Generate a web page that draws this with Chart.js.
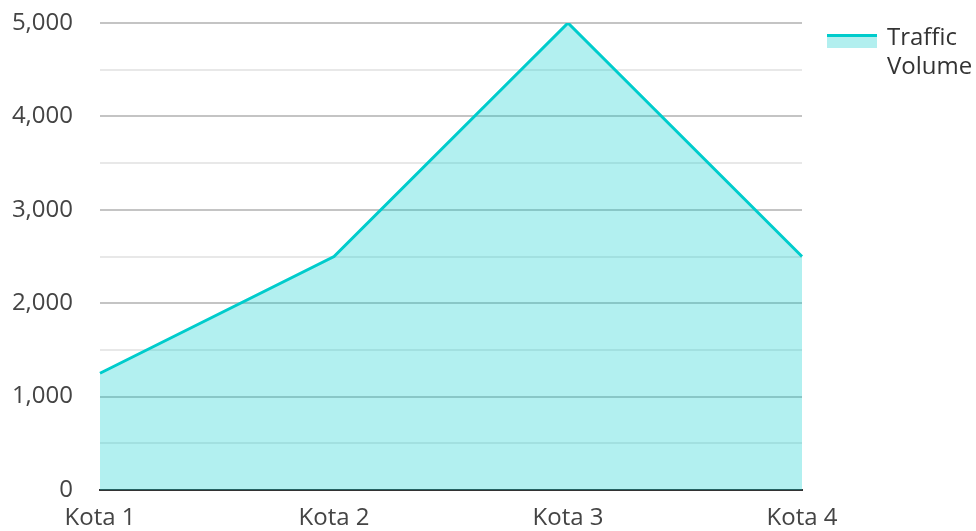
<!DOCTYPE html>
<html><head><meta charset="utf-8">
<script src="https://cdn.jsdelivr.net/npm/chart.js@4/dist/chart.umd.min.js"></script>
<style>html,body{margin:0;padding:0;background:#fff}canvas{display:block}</style>
</head><body><canvas id="c" width="976" height="531"></canvas>
<script>
const categories = ['Kota 1', 'Kota 2', 'Kota 3', 'Kota 4'];
const trafficVolume = [1250, 2500, 5000, 2500];
const seriesName = ['Traffic', 'Volume'];
const yStep = 500;
const yMax = 5000;

const FONT = "'Open Sans', 'Noto Sans', sans-serif";
const LINE = 'rgb(0,204,204)';
const FILL = 'rgba(0,204,204,0.3)';

const legendPlugin = {
  id: 'customLegend',
  afterDraw(chart) {
    const ctx = chart.ctx;
    ctx.save();
    ctx.fillStyle = 'rgb(178,239,239)';
    ctx.fillRect(827, 34, 50, 14);
    ctx.fillStyle = LINE;
    ctx.fillRect(827, 34, 50, 3);
    ctx.fillStyle = '#333';
    ctx.font = "24px " + FONT;
    ctx.textBaseline = 'middle';
    ctx.textAlign = 'left';
    ctx.fillText(seriesName[0], 887, 38);
    ctx.fillText(seriesName[1], 887, 67);
    ctx.restore();
  }
};

new Chart(document.getElementById('c'), {
  type: 'line',
  data: {
    labels: categories,
    datasets: [{
      label: seriesName.join(' '),
      data: trafficVolume,
      borderColor: LINE,
      backgroundColor: FILL,
      borderWidth: 3,
      fill: 'origin',
      pointRadius: 0,
      tension: 0
    }]
  },
  options: {
    responsive: false,
    animation: false,
    devicePixelRatio: 1,
    layout: { padding: { left: 0, right: 174, top: 23, bottom: 0 } },
    plugins: { legend: { display: false }, tooltip: { enabled: false } },
    scales: {
      x: {
        offset: false,
        grid: { display: false, drawTicks: false },
        border: { display: true, color: '#333', width: 2 },
        ticks: { color: '#444', font: { family: FONT, size: 24 }, padding: 14, maxRotation: 0, autoSkip: false },
        afterFit(s) { s.height = 41; s.paddingLeft = 0; s.paddingRight = 0; }
      },
      y: {
        min: 0, max: yMax,
        grid: {
          drawTicks: false,
          color: c => (c.tick && c.tick.value % 1000 === 0) ? '#c4c4c4' : '#e8e8e8',
          lineWidth: 2
        },
        border: { display: false },
        ticks: {
          stepSize: yStep, autoSkip: false,
          color: '#444', font: { family: FONT, size: 24 }, padding: 27,
          callback: v => (v % 1000 === 0) ? v.toLocaleString('en-US') : ''
        },
        afterFit(s) { s.width = 100; s.paddingTop = 0; s.paddingBottom = 0; }
      }
    }
  },
  plugins: [legendPlugin]
});
</script>
</body></html>
